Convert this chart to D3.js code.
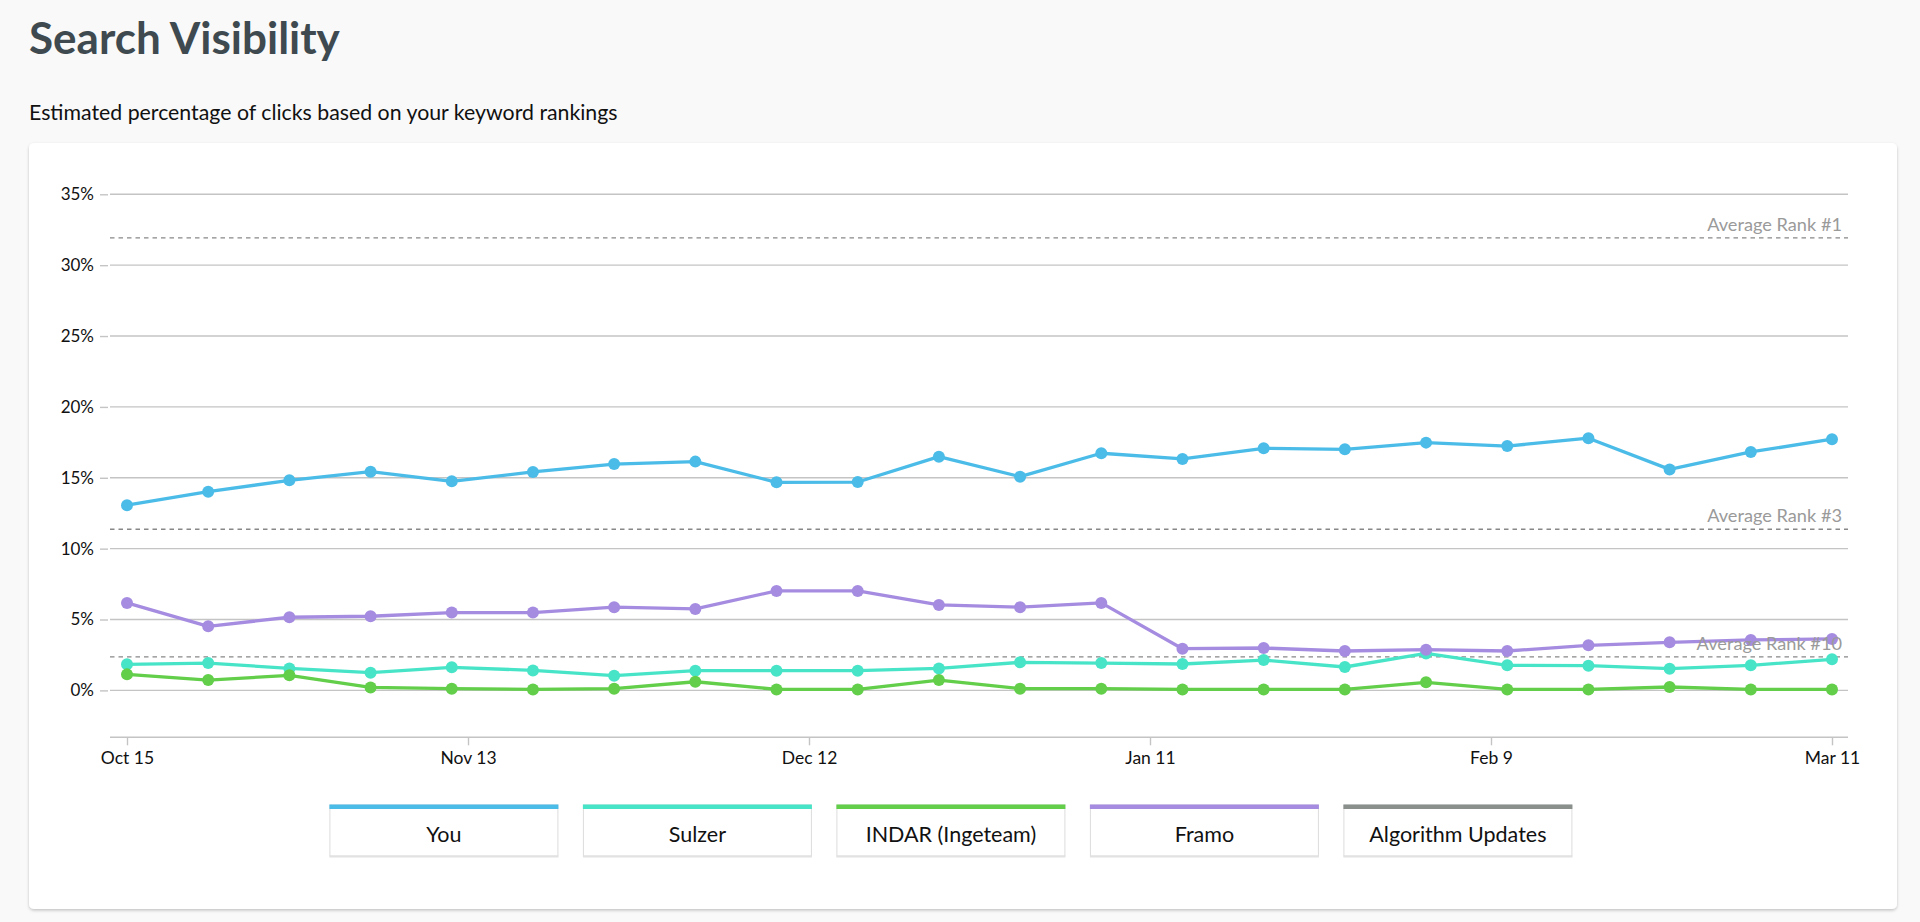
<!DOCTYPE html>
<html><head><meta charset="utf-8">
<script src="https://cdn.jsdelivr.net/npm/d3@7"></script>
<style>
html,body{margin:0;padding:0;background:#f9f9f9;}
body{width:1920px;height:922px;overflow:hidden;font-family:Lato,"Open Sans",sans-serif;}
</style></head><body>
<svg id="chart" width="1920" height="922"></svg>
<script>
// ---- data ----
const weeks = ["2020-10-15","2020-10-22","2020-10-29","2020-11-05","2020-11-12","2020-11-19","2020-11-26",
  "2020-12-03","2020-12-10","2020-12-17","2020-12-24","2020-12-31","2021-01-07","2021-01-14","2021-01-21",
  "2021-01-28","2021-02-04","2021-02-11","2021-02-18","2021-02-25","2021-03-04","2021-03-11"];
const seriesNames = ["You","Sulzer","INDAR (Ingeteam)","Framo","Algorithm Updates"];
const seriesColors = ["#4bbce8","#48e4c8","#62ce4a","#a58ce0","#8a918d"];
const you    = [13.07,14.02,14.82,15.43,14.75,15.41,15.97,16.14,14.68,14.70,16.49,15.08,16.73,16.33,17.08,17.01,17.48,17.24,17.79,15.59,16.82,17.72];
const sulzer = [1.84,1.93,1.55,1.25,1.63,1.41,1.04,1.39,1.39,1.39,1.55,1.98,1.93,1.86,2.14,1.65,2.61,1.77,1.74,1.53,1.77,2.19];
const indar  = [1.13,0.73,1.06,0.21,0.12,0.07,0.12,0.61,0.07,0.07,0.73,0.12,0.12,0.07,0.07,0.07,0.57,0.07,0.07,0.24,0.07,0.07];
const framo  = [6.17,4.52,5.16,5.23,5.49,5.49,5.87,5.75,7.02,7.02,6.03,5.87,6.17,2.94,2.99,2.78,2.87,2.78,3.18,3.39,3.56,3.63];
const algorithmUpdates = [];
const yTickValues = [0,5,10,15,20,25,30,35];
const xTickLabels = ["Oct 15","Nov 13","Dec 12","Jan 11","Feb 9","Mar 11"];
const rankLines = [{label:"Average Rank #1", value:31.93},{label:"Average Rank #3", value:11.37},{label:"Average Rank #10", value:2.36}];

// ---- layout ----
const svg = d3.select("#chart");
const defs = svg.append("defs");
const f = defs.append("filter").attr("id","shadow").attr("x","-2%").attr("y","-2%").attr("width","104%").attr("height","106%");
f.append("feDropShadow").attr("dx",0).attr("dy",1.5).attr("stdDeviation",1.5).attr("flood-color","#000").attr("flood-opacity",0.22);

svg.append("text").attr("x",29).attr("y",54).attr("font-size",44).attr("font-weight",700)
  .attr("fill","#3e4a4f").text("Search Visibility");
svg.append("text").attr("x",29).attr("y",120).attr("font-size",21.3).attr("fill","#111")
  .text("Estimated percentage of clicks based on your keyword rankings");

svg.append("rect").attr("x",29).attr("y",143).attr("width",1868).attr("height",766).attr("rx",5)
  .attr("fill","#fff").attr("filter","url(#shadow)");

const plotL = 110, plotR = 1848;
const parse = d3.utcParse("%Y-%m-%d");
const dates = weeks.map(parse);
const x = d3.scaleUtc().domain(d3.extent(dates)).range([127, 1832]);
const y = d3.scaleLinear().domain([-3.31, 35]).range([737.3, 194.3]);

// grid
svg.append("g").selectAll("line").data(yTickValues).join("line")
  .attr("x1",plotL).attr("x2",plotR).attr("y1",d=>y(d)).attr("y2",d=>y(d))
  .attr("stroke","#c4c4c4").attr("stroke-width",1.4);

// y axis
const yAxis = svg.append("g").attr("transform",`translate(${plotL-2},0)`)
  .call(d3.axisLeft(y).tickValues(yTickValues).tickSize(8).tickPadding(6).tickFormat(d=>d+"%"));
yAxis.select(".domain").remove();
yAxis.selectAll(".tick line").attr("stroke","#c4c4c4").attr("stroke-width",1.4);
yAxis.selectAll("text").attr("font-size",17).attr("fill","#111").attr("font-family","Lato");

// x axis
const [d0,d1] = x.domain();
const xTickVals = xTickLabels.map((l,i)=> new Date(+d0 + i*(d1-d0)/(xTickLabels.length-1)));
svg.append("line").attr("x1",plotL).attr("x2",plotR).attr("y1",737.3).attr("y2",737.3)
  .attr("stroke","#c4c4c4").attr("stroke-width",1.4);
const xAxis = svg.append("g").attr("transform","translate(0,737.3)")
  .call(d3.axisBottom(x).tickValues(xTickVals).tickSize(8).tickPadding(6).tickFormat((d,i)=>xTickLabels[i]));
xAxis.select(".domain").remove();
xAxis.selectAll(".tick line").attr("stroke","#c4c4c4").attr("stroke-width",1.4);
xAxis.selectAll("text").attr("font-size",17.5).attr("fill","#111").attr("font-family","Lato");

// rank lines
svg.append("g").selectAll("line").data(rankLines).join("line")
  .attr("x1",plotL).attr("x2",plotR).attr("y1",d=>y(d.value)).attr("y2",d=>y(d.value))
  .attr("stroke","#888").attr("stroke-width",1.3).attr("stroke-dasharray","4.5,4");

// series
const allSeries = [you, sulzer, indar, framo, algorithmUpdates];
const line = d3.line().x((d,i)=>x(dates[i])).y(d=>y(d));
allSeries.forEach((vals,k)=>{
  if(!vals.length) return;
  const g = svg.append("g");
  g.append("path").datum(vals).attr("d",line).attr("fill","none")
    .attr("stroke",seriesColors[k]).attr("stroke-width",3.3).attr("stroke-linejoin","round");
  g.selectAll("circle").data(vals).join("circle")
    .attr("cx",(d,i)=>x(dates[i])).attr("cy",d=>y(d)).attr("r",6).attr("fill",seriesColors[k]);
});

// rank labels
svg.append("g").selectAll("text").data(rankLines).join("text")
  .attr("x",1842).attr("y",d=>y(d.value)-7).attr("text-anchor","end")
  .attr("font-size",18.2).attr("fill","#9a9a9a").text(d=>d.label);

// legend
const legW = 229, legH = 51, legStep = 253.5, legX0 = 329.4, legY = 804.5;
const leg = svg.append("g").selectAll("g").data(seriesNames).join("g")
  .attr("transform",(d,i)=>`translate(${legX0+i*legStep},${legY})`);
leg.append("rect").attr("x",0.5).attr("y",0.5).attr("width",legW-1).attr("height",legH)
  .attr("fill","#fff").attr("stroke","#dcdcdc");
leg.append("rect").attr("x",0).attr("y",legH).attr("width",legW).attr("height",2).attr("fill","#e2e2e2");
leg.append("rect").attr("x",0).attr("y",0).attr("width",legW).attr("height",4.5).attr("fill",(d,i)=>seriesColors[i]);
leg.append("text").attr("x",legW/2).attr("y",37).attr("text-anchor","middle")
  .attr("font-size",21.5).attr("fill","#111").text(d=>d);
</script>
</body></html>
